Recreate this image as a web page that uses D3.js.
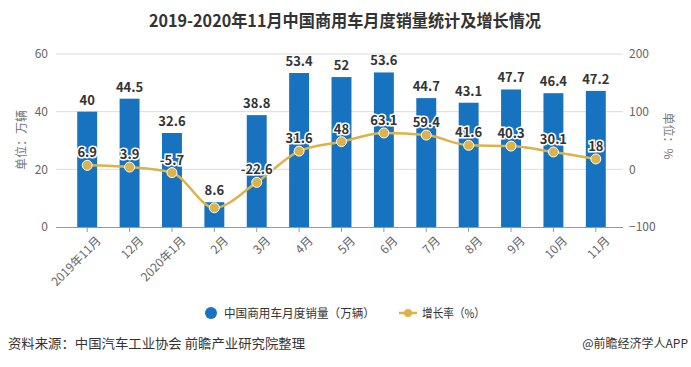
<!DOCTYPE html>
<html>
<head>
<meta charset="utf-8">
<script src="https://cdn.jsdelivr.net/npm/d3@7"></script>
<style>
  body { margin: 0; background: #fff; }
  text { font-family: "Noto Sans CJK SC", "Microsoft YaHei", sans-serif; }
</style>
</head>
<body>
<div id="chart"></div>
<script>
// data
const months = ["2019年11月", "12月", "2020年1月", "2月", "3月", "4月", "5月", "6月", "7月", "8月", "9月", "10月", "11月"];
const sales = [40, 44.5, 32.6, 8.6, 38.8, 53.4, 52, 53.6, 44.7, 43.1, 47.7, 46.4, 47.2];
const growth = [6.9, 3.9, -5.7, -66.7, -22.6, 31.6, 48, 63.1, 59.4, 41.6, 40.3, 30.1, 18];
// the 2月 growth label is hidden behind the bar label in the original
const growthLabelShown = [true, true, true, false, true, true, true, true, true, true, true, true, true];
const leftTicks = [0, 20, 40, 60];
const rightTicks = [-100, 0, 100, 200];

const W = 691, H = 367;
const plot = { left: 56, right: 623, top: 54, bottom: 227 };
const barColor = "#1772bf";
const lineColor = "#dcb24a";

const svg = d3.select("#chart").append("svg")
    .attr("width", W)
    .attr("height", H);

// title
svg.append("text")
    .attr("x", 345)
    .attr("y", 27)
    .attr("text-anchor", "middle")
    .attr("font-size", 17)
    .attr("font-weight", "bold")
    .attr("fill", "#333")
    .attr("textLength", 392)
    .attr("lengthAdjust", "spacingAndGlyphs")
    .text("2019-2020年11月中国商用车月度销量统计及增长情况");

// scales
const x = d3.scaleBand()
    .domain(months)
    .range([66, 617])
    .paddingInner(0.53)
    .paddingOuter(0.265);

const yLeft = d3.scaleLinear().domain([0, 60]).range([plot.bottom, plot.top]);
const yRight = d3.scaleLinear().domain([-100, 200]).range([plot.bottom, plot.top]);

const cx = d => x(d) + x.bandwidth() / 2;

// gridlines
svg.selectAll(".grid")
    .data(leftTicks.filter(t => t !== 0))
    .enter()
    .append("line")
    .attr("class", "grid")
    .attr("x1", plot.left)
    .attr("x2", plot.right)
    .attr("y1", d => yLeft(d))
    .attr("y2", d => yLeft(d))
    .attr("stroke", "#dcdcdc")
    .attr("stroke-width", 1);

// left axis
const leftAxis = svg.append("g")
    .attr("transform", `translate(${plot.left},0)`)
    .call(d3.axisLeft(yLeft).tickValues(leftTicks).tickSize(0).tickPadding(8));
leftAxis.select(".domain").remove();
leftAxis.selectAll("text")
    .attr("font-size", 12)
    .attr("fill", "#666")
    .style("font-family", "'Noto Sans CJK SC', sans-serif");

// right axis
const rightAxis = svg.append("g")
    .attr("transform", `translate(${plot.right},0)`)
    .call(d3.axisRight(yRight).tickValues(rightTicks).tickSize(0).tickPadding(6));
rightAxis.select(".domain").remove();
rightAxis.selectAll("text")
    .attr("font-size", 12)
    .attr("fill", "#666")
    .style("font-family", "'Noto Sans CJK SC', sans-serif");

// axis titles
svg.append("text")
    .attr("transform", "translate(26,140) rotate(-90)")
    .attr("text-anchor", "middle")
    .attr("font-size", 12)
    .attr("fill", "#777")
    .text("单位：万辆");

svg.append("text")
    .attr("transform", "translate(664,136) rotate(90)")
    .attr("text-anchor", "middle")
    .attr("font-size", 12)
    .attr("fill", "#777")
    .text("单位：%");

// bars
svg.selectAll(".bar")
    .data(sales)
    .enter()
    .append("rect")
    .attr("class", "bar")
    .attr("x", (d, i) => x(months[i]))
    .attr("y", d => yLeft(d))
    .attr("width", x.bandwidth())
    .attr("height", d => plot.bottom - yLeft(d))
    .attr("fill", barColor);

// x axis
const xAxis = svg.append("g")
    .attr("transform", `translate(0,${plot.bottom})`)
    .call(d3.axisBottom(x).tickSize(5).tickPadding(4));
xAxis.select(".domain")
    .attr("d", `M${plot.left},0.5H${plot.right}`)
    .attr("stroke", "#999");
xAxis.selectAll(".tick line").attr("stroke", "#999");
xAxis.selectAll("text")
    .attr("font-size", 12)
    .attr("fill", "#666")
    .attr("text-anchor", "end")
    .attr("dy", "0.5em")
    .attr("transform", "translate(4,4) rotate(-45)")
    .style("font-family", "'Noto Sans CJK SC', sans-serif");

// bar labels
svg.selectAll(".bar-label")
    .data(sales)
    .enter()
    .append("text")
    .attr("class", "bar-label")
    .attr("x", (d, i) => cx(months[i]))
    .attr("y", d => yLeft(d) - 7)
    .attr("text-anchor", "middle")
    .attr("font-size", 13)
    .attr("font-weight", "bold")
    .attr("fill", "#333")
    .text(d => d);

// growth line
const line = d3.line()
    .x((d, i) => cx(months[i]))
    .y(d => yRight(d))
    .curve(d3.curveMonotoneX);

svg.append("path")
    .datum(growth)
    .attr("d", line)
    .attr("fill", "none")
    .attr("stroke", lineColor)
    .attr("stroke-width", 2.5);

svg.selectAll(".dot")
    .data(growth)
    .enter()
    .append("circle")
    .attr("class", "dot")
    .attr("cx", (d, i) => cx(months[i]))
    .attr("cy", d => yRight(d))
    .attr("r", 5)
    .attr("fill", lineColor)
    .attr("stroke", "#fff")
    .attr("stroke-width", 1);

// growth labels, dark text with a white halo
svg.selectAll(".line-label")
    .data(growth.map((v, i) => ({ v, i })).filter(d => growthLabelShown[d.i]))
    .enter()
    .append("text")
    .attr("class", "line-label")
    .attr("x", d => cx(months[d.i]))
    .attr("y", d => yRight(d.v) - 8)
    .attr("text-anchor", "middle")
    .attr("font-size", 13)
    .attr("font-weight", "bold")
    .attr("fill", "#333")
    .attr("stroke", "#fff")
    .attr("stroke-width", 3)
    .attr("paint-order", "stroke")
    .text(d => d.v);

// legend
const legend = svg.append("g");
legend.append("circle")
    .attr("cx", 211)
    .attr("cy", 313)
    .attr("r", 6)
    .attr("fill", barColor);
legend.append("text")
    .attr("x", 224)
    .attr("y", 317.5)
    .attr("font-size", 12)
    .attr("fill", "#333")
    .attr("textLength", 151)
    .attr("lengthAdjust", "spacingAndGlyphs")
    .text("中国商用车月度销量（万辆）");

legend.append("line")
    .attr("x1", 399)
    .attr("x2", 417)
    .attr("y1", 313)
    .attr("y2", 313)
    .attr("stroke", lineColor)
    .attr("stroke-width", 2.5);
legend.append("circle")
    .attr("cx", 408)
    .attr("cy", 313)
    .attr("r", 4)
    .attr("fill", lineColor);
legend.append("text")
    .attr("x", 422)
    .attr("y", 317.5)
    .attr("font-size", 12)
    .attr("fill", "#333")
    .attr("textLength", 63)
    .attr("lengthAdjust", "spacingAndGlyphs")
    .text("增长率（%）");

// footer
svg.append("text")
    .attr("x", 8)
    .attr("y", 348)
    .attr("font-size", 13)
    .attr("fill", "#333")
    .attr("textLength", 297)
    .attr("lengthAdjust", "spacingAndGlyphs")
    .text("资料来源：中国汽车工业协会 前瞻产业研究院整理");

svg.append("text")
    .attr("x", 688)
    .attr("y", 348)
    .attr("text-anchor", "end")
    .attr("font-size", 12)
    .attr("fill", "#333")
    .text("@前瞻经济学人APP");
</script>
</body>
</html>
